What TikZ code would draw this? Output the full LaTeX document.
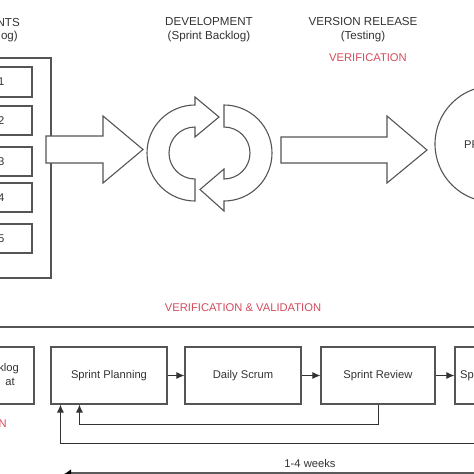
\documentclass[tikz,border=0pt]{standalone}
\usepackage{fontspec}
\setmainfont{Liberation Sans}
\usetikzlibrary{arrows.meta}
\definecolor{ink}{HTML}{333333}
\definecolor{edgec}{HTML}{555555}
\definecolor{redt}{HTML}{D24B5C}
\definecolor{barc}{HTML}{5A5A5A}
\begin{document}
\begin{tikzpicture}[x=1pt,y=-1pt,
  font=\fontsize{11.2}{13.4}\selectfont, text=ink,
  box/.style={draw=edgec, line width=1.1pt, fill=white, rectangle, inner sep=0pt},
  shapeline/.style={draw=edgec, line width=1.1pt, fill=white, line join=miter},
  conn/.style={draw=black!80, line width=1pt, -{Latex[length=8pt,width=7pt]}},
  title/.style={align=center, inner sep=0pt, font=\fontsize{11.6}{13.4}\selectfont},
  redlabel/.style={text=redt, inner sep=0pt}]
\useasboundingbox (0,0) rectangle (474,474);

% ---------- top titles ----------
\node[title, anchor=east] (reqA) at (20,23) {NTS};
\node[title, anchor=east] (reqB) at (18,36) {og)};
\node[title] (dev) at (209,29.5) {DEVELOPMENT\\(Sprint Backlog)};
\node[title] (rel) at (363,29.5) {VERSION RELEASE\\(Testing)};
\node[redlabel] (ver) at (368,58) {VERIFICATION};

% ---------- requirements container ----------
\node[box, minimum width=131pt, minimum height=220pt] (cont) at (-14.5,168) {};
\node[box, minimum width=92pt, minimum height=30pt] (r1) at (-14,82) {};
\node[box, minimum width=92pt, minimum height=29pt] (r2) at (-14,120.5) {};
\node[box, minimum width=92pt, minimum height=29pt] (r3) at (-14,161.5) {};
\node[box, minimum width=92pt, minimum height=29pt] (r4) at (-14,197.5) {};
\node[box, minimum width=92pt, minimum height=29pt] (r5) at (-14,238.5) {};
\foreach \i/\y in {1/82,2/120.5,3/161.5,4/197.5,5/238.5}
  \node[anchor=east, inner sep=0pt] (n\i) at (4.5,\y) {\i};

% ---------- block arrow 1 ----------
\path[shapeline] (46,136) -- (103,136) -- (103,116) -- (143,149.5) -- (103,183)
  -- (103,163) -- (46,163) -- cycle;

% ---------- cycle arrows ----------
\path[shapeline] (195,201) arc[start angle=90, end angle=270, radius=48]
  -- (195,97) -- (219,117) -- (195,137) -- (195,127)
  arc[start angle=270, end angle=90, radius=26] -- cycle;
\path[shapeline] (224,105) arc[start angle=-90, end angle=90, radius=48]
  -- (224,211) -- (200,189.5) -- (224,169) -- (224,179)
  arc[start angle=90, end angle=-90, radius=26] -- cycle;

% ---------- block arrow 2 ----------
\path[shapeline] (281,137) -- (387,137) -- (387,116) -- (427,150) -- (387,183)
  -- (387,163) -- (281,163) -- cycle;

% ---------- product circle ----------
\node[draw=edgec, line width=1.1pt, circle, minimum size=116pt, inner sep=0pt] (prod) at (493,144) {};
\node[anchor=west, inner sep=0pt] (prodt) at (464,145) {PR};

% ---------- bottom section ----------
\node[redlabel] (vv) at (243,308) {VERIFICATION \& VALIDATION};
\coordinate (topL) at (0,327);
\coordinate (topR) at (474,327);
\draw[edgec, line width=1.1pt] (topL) -- (topR);

\node[box, minimum width=94pt, minimum height=57pt] (pb) at (-13,375.5) {};
\node[anchor=east, inner sep=0pt] (pbA) at (19,369) {cklog};
\node[anchor=east, inner sep=0pt] (pbB) at (15,382) {at};
\node[redlabel, anchor=east] (valN) at (7,424) {N};

\node[box, minimum width=116pt, minimum height=57pt] (sp) at (109,375.5) {Sprint Planning};
\node[box, minimum width=116pt, minimum height=57pt] (ds) at (243,375.5) {Daily Scrum};
\node[box, minimum width=114pt, minimum height=57pt] (sr) at (378,375.5) {Sprint Review};
\node[box, minimum width=116pt, minimum height=57pt] (sre) at (513,375.5) {};
\node[anchor=west, inner sep=0pt] (sret) at (460,376) {Sp};

\draw[conn] (sp.east) -- (ds.west);
\draw[conn] (ds.east) -- (sr.west);
\draw[conn] (sr.east) -- (sre.west);
\draw[conn] (sr.south) -- ++(0,19.5) -| ([xshift=29pt]sp.south west);
\draw[conn] (sre.south) -- ++(0,39) -| ([xshift=10pt]sp.south west);

% ---------- duration ----------
\node[inner sep=0pt] (wk) at (310,463) {1-4 weeks};
\coordinate (barR) at (500,475);
\coordinate (barL) at (62,475);
\draw[barc, line width=6pt, -{Latex[length=9pt,width=12pt,fill=black,color=black]}] (barR) -- (barL);
\end{tikzpicture}
\end{document}
